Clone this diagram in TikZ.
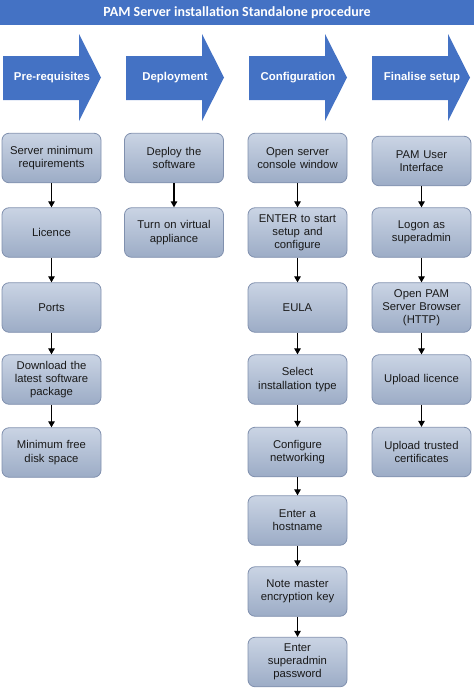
\documentclass[tikz,border=0pt]{standalone}
\usepackage{fontspec}
\setmainfont{Liberation Sans}
\newfontfamily\titlefont{Carlito}
\usetikzlibrary{arrows.meta}
\definecolor{hdr}{RGB}{68,114,196}
\definecolor{boxtop}{RGB}{202,212,228}
\definecolor{boxbot}{RGB}{156,172,198}
\definecolor{boxline}{RGB}{128,144,174}
\definecolor{boxtext}{RGB}{25,25,25}
\tikzset{
  stepbox/.style={rounded corners=7pt, draw=boxline, line width=0.8pt,
    top color=boxtop, bottom color=boxbot, minimum width=99pt, minimum height=49.5pt,
    inner sep=0pt, text width=97pt, align=center, text=boxtext,
    font=\fontsize{11.3}{13.2}\selectfont},
  hdrtext/.style={text=white, font=\bfseries\fontsize{11.4}{13}\selectfont},
  conn/.style={line width=1.1pt, -{Triangle[width=6.5pt,length=6pt]}},
}
\newcommand{\hdrarrow}[1]{%
  \fill[hdr] (#1,56) -- (#1+76,56) -- (#1+76,34) -- (#1+98,77.5) -- (#1+76,121) -- (#1+76,100) -- (#1,100) -- cycle;}
\begin{document}
\begin{tikzpicture}[x=1pt,y=-1pt]
\useasboundingbox (0,0) rectangle (474,688);
\fill[hdr] (0,0) rectangle (474,25);
\node[text=white, font=\titlefont\bfseries\fontsize{14}{16}\selectfont] (title) at (237,12.5) {PAM Server installation Standalone procedure};

\hdrarrow{3}
\hdrarrow{126}
\hdrarrow{249}
\hdrarrow{372}
\node[hdrtext] (h1) at (52,77.5) {Pre-requisites};
\node[hdrtext] (h2) at (175,77.5) {Deployment};
\node[hdrtext] (h3) at (298,77.5) {Configuration};
\node[hdrtext] (h4) at (422,77.5) {Finalise setup};

% column 1
\node[stepbox] (a1) at (51.5,158) {Server minimum\\requirements};
\node[stepbox] (a2) at (51.5,232.5) {Licence};
\node[stepbox] (a3) at (51.5,307.5) {Ports};
\node[stepbox] (a4) at (51.5,379.5) {Download the\\latest software\\package};
\node[stepbox] (a5) at (51.5,452.5) {Minimum free\\disk space};
\draw[conn] (a1) -- (a2);
\draw[conn] (a2) -- (a3);
\draw[conn] (a3) -- (a4);
\draw[conn] (a4) -- (a5);

% column 2
\node[stepbox] (b1) at (174,158) {Deploy the\\software};
\node[stepbox] (b2) at (174,232.5) {Turn on virtual\\appliance};
\draw[conn] (b1) -- (b2);

% column 3
\node[stepbox] (c1) at (297.5,158) {Open server\\console window};
\node[stepbox] (c2) at (297.5,232.5) {ENTER to start\\setup and\\configure};
\node[stepbox] (c3) at (297.5,307.5) {EULA};
\node[stepbox] (c4) at (297.5,379.5) {Select\\installation type};
\node[stepbox] (c5) at (297.5,452) {Configure\\networking};
\node[stepbox] (c6) at (297.5,520.5) {Enter a\\hostname};
\node[stepbox] (c7) at (297.5,591.5) {Note master\\encryption key};
\node[stepbox] (c8) at (297.5,662) {Enter\\superadmin\\password};
\draw[conn] (c1) -- (c2);
\draw[conn] (c2) -- (c3);
\draw[conn] (c3) -- (c4);
\draw[conn] (c4) -- (c5);
\draw[conn] (c5) -- (c6);
\draw[conn] (c6) -- (c7);
\draw[conn] (c7) -- (c8);

% column 4
\node[stepbox] (d1) at (421.5,161) {PAM User\\Interface};
\node[stepbox] (d2) at (421.5,232.5) {Logon as\\superadmin};
\node[stepbox] (d3) at (421.5,307.5) {Open PAM\\Server Browser\\(HTTP)};
\node[stepbox] (d4) at (421.5,379.5) {Upload licence};
\node[stepbox] (d5) at (421.5,452) {Upload trusted\\certificates};
\draw[conn] (d1) -- (d2);
\draw[conn] (d2) -- (d3);
\draw[conn] (d3) -- (d4);
\draw[conn] (d4) -- (d5);
\end{tikzpicture}
\end{document}
